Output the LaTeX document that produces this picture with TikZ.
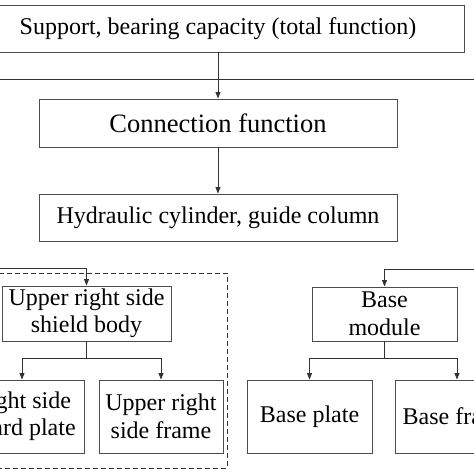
\documentclass[tikz,border=0pt]{standalone}
\usepackage{fontspec}
\setmainfont{Liberation Serif}
\usetikzlibrary{arrows.meta, positioning}

\begin{document}
\begin{tikzpicture}[
        x=1pt, y=-1pt,
        box/.style={rectangle, draw=black!70, line width=0.9pt, align=center, inner sep=0pt},
        txt/.style={font=\fontsize{24}{27.5}\selectfont},
        arr/.style={-{Triangle[length=6.5pt, width=5pt]}, line width=0.9pt, draw=black!80},
        ln/.style={line width=0.9pt, draw=black!80},
    ]
        \useasboundingbox (0,0) rectangle (474,474);
        \clip (0,0) rectangle (474,474);

        % Upper chain: total function down to parts
        \node[box, txt, minimum width=492pt, minimum height=47pt] (sup) at (218,28.5) {Support, bearing capacity (total function)};
        \node[box, minimum width=358pt, minimum height=48pt, font=\fontsize{26.5}{30}\selectfont] (conn) at (218,123) {Connection function};
        \node[box, txt, minimum width=358pt, minimum height=47pt] (hyd) at (218,217.5) {Hydraulic cylinder, guide column};

        % Separator line
        \coordinate (sepl) at (0,79);
        \coordinate (sepr) at (474,79);
        \draw[ln] (sepl) -- (sepr);

        \draw[arr] (sup) -- (conn);
        \draw[arr] (conn) -- (hyd);

        % Left group: shield body (dashed frame)
        \node[box, txt, minimum width=169pt, minimum height=55pt] (shield) at (86.5,313.5) {Upper right side\\shield body};
        \node[box, txt, minimum width=124pt, minimum height=73pt] (guard) at (22,416.5) {Right side\\guard plate};
        \node[box, txt, minimum width=124pt, minimum height=73pt] (frame) at (161,416.5) {Upper right\\side frame};
        \draw[ln, dashed, dash pattern=on 5pt off 3pt] (-80,273) rectangle (227,468);

        \coordinate (infl) at (0,268);
        \draw[arr] (infl) -| (shield.north);
        \draw[arr] (shield.south) -- ++(0,17) -| (guard.north);
        \draw[arr] (shield.south) -- ++(0,17) -| (frame.north);

        % Right group: base module
        \node[box, txt, minimum width=145pt, minimum height=54pt] (base) at (384.5,314) {Base\\module};
        \node[box, txt, minimum width=125pt, minimum height=73pt] (plate) at (309.5,416.5) {Base plate};
        \node[box, txt, minimum width=124pt, minimum height=73pt] (bframe) at (457,416.5) {Base frame};

        \coordinate (infr) at (474,269);
        \draw[arr] (infr) -| (base.north);
        \draw[arr] (base.south) -- ++(0,17) -| (plate.north);
        \draw[arr] (base.south) -- ++(0,17) -| (bframe.north);
    \end{tikzpicture}
\end{document}
